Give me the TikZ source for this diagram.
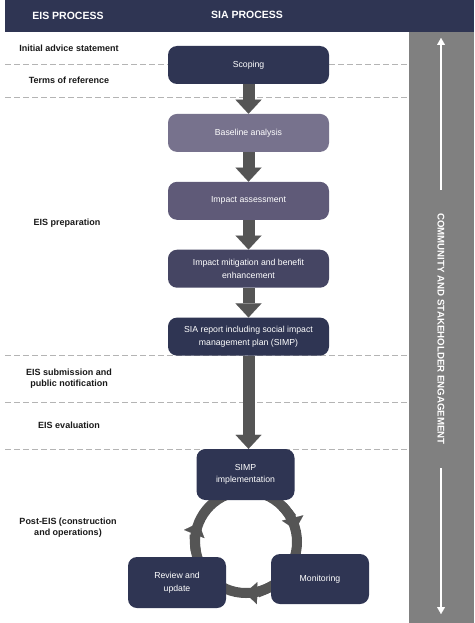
\documentclass[tikz,border=0pt]{standalone}
\usepackage{fontspec}
\setmainfont{Liberation Sans}
\usetikzlibrary{positioning,arrows.meta}
\definecolor{sia-navy}{HTML}{2F3553}
\definecolor{sia-mauve}{HTML}{77728D}
\definecolor{sia-slate}{HTML}{5F5A78}
\definecolor{sia-dusk}{HTML}{454563}
\definecolor{flow-grey}{HTML}{555555}
\definecolor{band-grey}{HTML}{808080}
\definecolor{sep-grey}{HTML}{B4B4B4}

\begin{document}
\begin{tikzpicture}[
  x=1pt,y=1pt,
  every node/.style={font=\fontsize{8.7}{12.5}\selectfont},
  stage-box/.style={rounded corners=9pt,text=white,align=center,minimum width=161pt,minimum height=38pt,inner sep=2pt},
  loop-box/.style={stage-box,fill=sia-navy,minimum width=98pt,minimum height=51pt},
  eis-label/.style={font=\fontsize{9}{11}\selectfont\bfseries,text=black!90,align=center},
  head-label/.style={font=\fontsize{10.5}{12}\selectfont\bfseries,text=white},
  flow-arrow/.style={draw=flow-grey,line width=12pt,-{Triangle[width=26pt,length=14pt,line width=0.01pt]}},
  stage-sep/.style={draw=sep-grey,dash pattern=on 6pt off 3pt,line width=0.8pt},
  cycle-ring/.style={draw=flow-grey,line width=10pt},
  cycle-tip/.style={cycle-ring,-{Triangle[width=22pt,length=12pt,line width=0.01pt]}},
  engage-arrow/.style={draw=white,line width=2.5pt,-{Triangle[width=8pt,length=7pt,line width=0.01pt]}},
  ]

  \useasboundingbox (0,0) rectangle (474,-623);
  \fill [white] (0,0) rectangle (474,-623);

  \fill [sia-navy] (5,0) rectangle (474,-32);
  \fill [band-grey] (409,-32) rectangle (474,-623);
  \node [head-label] (eis-head) at (68,-16) {EIS PROCESS};
  \node [head-label] (sia-head) at (247,-15) {SIA PROCESS};

  \foreach \sepy in {64,97,355,402,449}
    \draw [stage-sep] (5,-\sepy) -- (409,-\sepy);

  \node [eis-label] (eis-label-ias) at (69,-48) {Initial advice statement};
  \node [eis-label] (eis-label-tor) at (69,-80) {Terms of reference};
  \node [eis-label] (eis-label-prep) at (67,-223) {EIS preparation};
  \node [eis-label] (eis-label-submit) at (69,-379) {EIS submission and\\public notification};
  \node [eis-label] (eis-label-eval) at (69,-425) {EIS evaluation};
  \node [eis-label] (eis-label-post) at (68,-528) {Post-EIS (construction\\and operations)};

  \coordinate (cycle-centre) at (246,-542);
  \draw [cycle-ring] (cycle-centre) circle [radius=51];
  \draw [cycle-tip] ([shift={(45:51)}]cycle-centre) arc [start angle=45,end angle=14,radius=51];
  \draw [cycle-tip] ([shift={(-60:51)}]cycle-centre) arc [start angle=-60,end angle=-91,radius=51];
  \draw [cycle-tip] ([shift={(190:51)}]cycle-centre) arc [start angle=190,end angle=158,radius=51];

  \node [stage-box,fill=sia-navy] (sia-box-scoping) at (248.5,-65) {Scoping};
  \node [stage-box,fill=sia-mauve,below=29.5pt of sia-box-scoping] (sia-box-baseline) {Baseline analysis};
  \node [stage-box,fill=sia-slate,below=29.5pt of sia-box-baseline] (sia-box-impact) {Impact assessment};
  \node [stage-box,fill=sia-dusk,below=29.5pt of sia-box-impact] (sia-box-mitigation) {Impact mitigation and benefit\\enhancement};
  \node [stage-box,fill=sia-navy,below=29.5pt of sia-box-mitigation] (sia-box-report) {SIA report including social impact\\management plan (SIMP)};

  \node [loop-box] (sia-box-simp) at (245.5,-474.5) {SIMP\\implementation};
  \node [loop-box,minimum height=50pt] (sia-box-monitor) at (320,-579) {Monitoring};
  \node [loop-box] (sia-box-review) at (177,-582.5) {Review and\\update};

  \draw [flow-arrow] (sia-box-scoping) -- (sia-box-baseline);
  \draw [flow-arrow] (sia-box-baseline) -- (sia-box-impact);
  \draw [flow-arrow] (sia-box-impact) -- (sia-box-mitigation);
  \draw [flow-arrow] (sia-box-mitigation) -- (sia-box-report);
  \draw [flow-arrow] (sia-box-report.south) -- (sia-box-report.south |- sia-box-simp.north);

  \node [font=\fontsize{9.7}{11}\selectfont\bfseries,text=white,rotate=-90] (engage-text) at (441,-329) {COMMUNITY AND STAKEHOLDER ENGAGEMENT};
  \coordinate (engage-top) at (441,-38);
  \coordinate (engage-bottom) at (441,-614);
  \draw [engage-arrow,shorten <=20pt] (engage-text.west) -- (engage-top);
  \draw [engage-arrow,shorten <=20pt] (engage-text.east) -- (engage-bottom);

\end{tikzpicture}
\end{document}
